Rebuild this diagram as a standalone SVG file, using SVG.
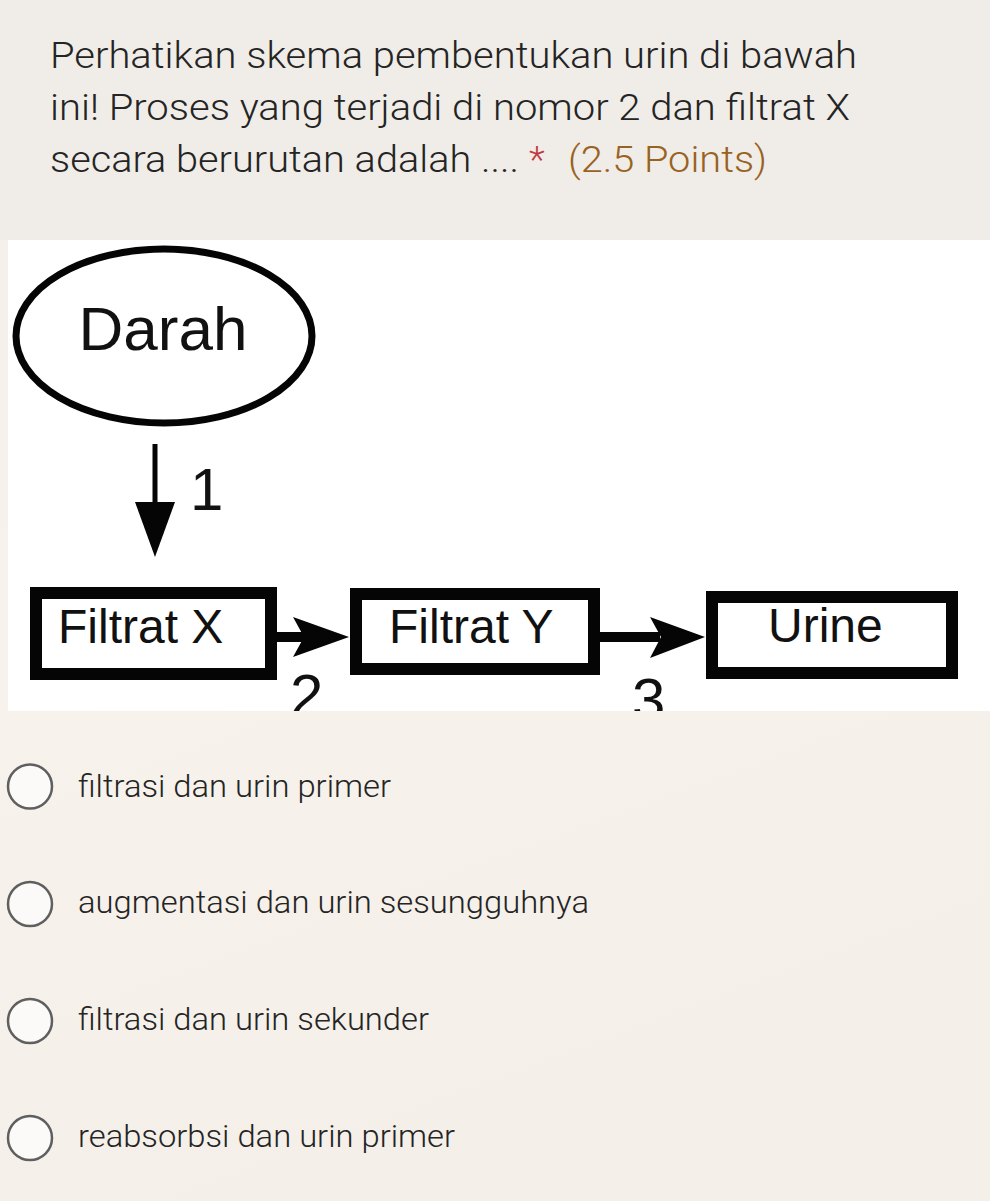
<svg xmlns="http://www.w3.org/2000/svg" width="990" height="1201" viewBox="0 0 990 1201">
<defs>
<style>
.q{font-family:Roboto,"Noto Sans",sans-serif;font-size:37px;font-weight:300;fill:#242424}
.opt{font-family:Roboto,"Noto Sans",sans-serif;font-size:31px;font-weight:300;fill:#242424}
.lbl{font-family:"Liberation Sans",Arial,sans-serif;fill:#111}
.box{fill:#fff;stroke:#050505;stroke-width:12}
.radio{fill:#fbfaf8;stroke:#5f5f5f;stroke-width:2.5}
.conn{stroke:#050505;fill:none}
.head{fill:#050505}
</style>
<linearGradient id="bg" x1="0" y1="0" x2="0.3" y2="1">
<stop offset="0" stop-color="#f3eee8"/>
<stop offset="0.5" stop-color="#f7f2eb"/>
<stop offset="1" stop-color="#f4efe9"/>
</linearGradient>
</defs>
<rect width="990" height="1201" fill="url(#bg)"/>
<rect width="990" height="240" fill="#f0ece7"/>

<g id="question">
<text class="q" x="50" y="68" textLength="807" lengthAdjust="spacingAndGlyphs">Perhatikan skema pembentukan urin di bawah</text>
<text class="q" x="50" y="120" textLength="800" lengthAdjust="spacingAndGlyphs">ini! Proses yang terjadi di nomor 2 dan filtrat X</text>
<text class="q" x="50" y="172" textLength="469" lengthAdjust="spacingAndGlyphs">secara berurutan adalah ....</text>
<text class="q" x="529" y="172" style="fill:#c0393f">*</text>
<text class="q" x="568" y="172" textLength="199" lengthAdjust="spacingAndGlyphs" style="fill:#986222">(2.5 Points)</text>
</g>

<g id="panel">
<rect x="8" y="240" width="982" height="471" fill="#ffffff"/>
</g>

<svg x="8" y="240" width="982" height="471" viewBox="8 240 982 471" overflow="hidden">
<g id="connectors">
<line class="conn" x1="155" y1="444" x2="155" y2="510" stroke-width="5"/>
<polygon class="head" points="135,502 175,502 155,557"/>
<line class="conn" x1="277" y1="637" x2="310" y2="637" stroke-width="10"/>
<polygon class="head" points="293,617 349,637 293,657 304,637"/>
<line class="conn" x1="600" y1="637" x2="660" y2="637" stroke-width="10"/>
<polygon class="head" points="650,617 705,637 650,658 661,637"/>
</g>
<g id="node-darah">
<ellipse cx="164" cy="336" rx="148" ry="87" fill="#fff" stroke="#050505" stroke-width="7"/>
<text class="lbl" x="163" y="350" font-size="62" text-anchor="middle">Darah</text>
</g>
<g id="node-filtrat-x">
<rect class="box" x="36" y="593" width="235" height="81"/>
<text class="lbl" x="58" y="643" font-size="48">Filtrat X</text>
</g>
<g id="node-filtrat-y">
<rect class="box" x="356" y="594" width="238" height="75"/>
<text class="lbl" x="389" y="643" font-size="48">Filtrat Y</text>
</g>
<g id="node-urine">
<rect class="box" x="712" y="597" width="240" height="76"/>
<text class="lbl" x="768" y="642" font-size="48">Urine</text>
</g>
<g id="labels">
<text class="lbl" x="190" y="510" font-size="60">1</text>
<text class="lbl" x="290" y="716" font-size="60">2</text>
<text class="lbl" x="632" y="720" font-size="60">3</text>
</g>
</svg>

<g id="options">
<g id="opt1"><circle class="radio" cx="30" cy="786.5" r="22"/><text class="opt" x="78" y="797" textLength="313" lengthAdjust="spacingAndGlyphs">filtrasi dan urin primer</text></g>
<g id="opt2"><circle class="radio" cx="30" cy="904" r="22"/><text class="opt" x="78" y="913" textLength="511" lengthAdjust="spacingAndGlyphs">augmentasi dan urin sesungguhnya</text></g>
<g id="opt3"><circle class="radio" cx="30" cy="1021" r="22"/><text class="opt" x="78" y="1030" textLength="351" lengthAdjust="spacingAndGlyphs">filtrasi dan urin sekunder</text></g>
<g id="opt4"><circle class="radio" cx="30" cy="1138" r="22"/><text class="opt" x="78" y="1147" textLength="377" lengthAdjust="spacingAndGlyphs">reabsorbsi dan urin primer</text></g>
</g>
</svg>
